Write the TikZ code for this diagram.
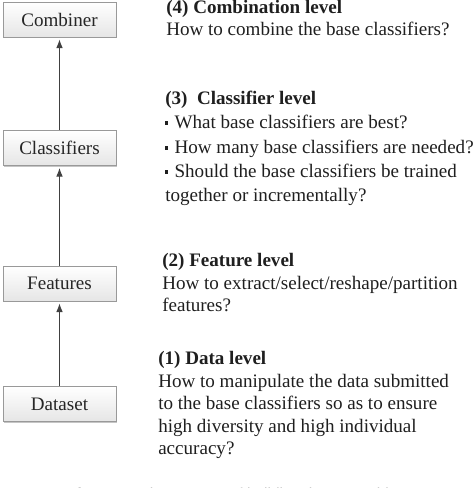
\documentclass[tikz,border=0pt]{standalone}
\usepackage{fontspec}
\setmainfont{Liberation Serif}
\setsansfont{Liberation Sans}
\usetikzlibrary{arrows.meta,shadows}

\tikzset{
  levelbox/.style={draw=black!40, line width=0.6pt, top color=white, bottom color=black!10,
    drop shadow={shadow xshift=0.9pt, shadow yshift=-0.9pt, fill=black!45, opacity=0.5},
    minimum width=84.75pt, minimum height=26.25pt, inner sep=0pt,
    font=\fontsize{14.3}{17}\selectfont, text=black!85},
  levelarrow/.style={-{Latex[length=6.5pt,width=5pt]}, draw=black!75, line width=0.75pt, shorten >=1.5pt},
  leveltext/.style={anchor=base west, inner sep=0pt, font=\fontsize{14.3}{17}\selectfont, text=black!88}
}
\newcommand{\sqbul}{\raisebox{0.5ex}{\rule{2.4pt}{2.4pt}}\hspace{4.6pt}}

\begin{document}
\begin{tikzpicture}[x=0.75pt,y=0.75pt,yscale=-1,xscale=1]
\useasboundingbox (0,0) rectangle (474,488); %set diagram to the size of the reference

%Shape: Rectangle [id:combiner]
\node (comb) [levelbox] at (59.5,19.5) {Combiner};
%Shape: Rectangle [id:classifiers]
\node (clf) [levelbox] at (59.5,148) {Classifiers};
%Shape: Rectangle [id:features]
\node (feat) [levelbox] at (59.5,283.5) {Features};
%Shape: Rectangle [id:dataset]
\node (data) [levelbox] at (59.5,404) {Dataset};

%Straight Lines
\draw [levelarrow] (clf.north) -- (comb.south);
\draw [levelarrow] (feat.north) -- (clf.south);
\draw [levelarrow] (data.north) -- (feat.south);

% Text Node
\node (comb1) [leveltext] at (166,14) {\textbf{(4) Combination level}};
% Text Node
\node (comb2) [leveltext] at (166,36) {How to combine the base classifiers?};

% Text Node
\node (clf1) [leveltext] at (165,105) {\textbf{(3)\ \ Classifier level}};
% Text Node
\node (clf2) [leveltext] at (165,129) {\sqbul What base classifiers are best?};
% Text Node
\node (clf3) [leveltext] at (165,154) {\sqbul How many base classifiers are needed?};
% Text Node
\node (clf4) [leveltext] at (165,178) {\sqbul Should the base classifiers be trained};
% Text Node
\node (clf5) [leveltext] at (165,201) {together or incrementally?};

% Text Node
\node (feat1) [leveltext] at (162,266) {\textbf{(2) Feature level}};
% Text Node
\node (feat2) [leveltext] at (162,289) {How to extract/select/reshape/partition};
% Text Node
\node (feat3) [leveltext] at (162,311) {features?};

% Text Node
\node (data1) [leveltext] at (158,364) {\textbf{(1) Data level}};
% Text Node
\node (data2) [leveltext] at (158,387) {How to manipulate the data submitted};
% Text Node
\node (data3) [leveltext] at (158,409) {to the base classifiers so as to ensure};
% Text Node
\node (data4) [leveltext] at (158,432) {high diversity and high individual};
% Text Node
\node (data5) [leveltext] at (158,454) {accuracy?};

% Text Node
\node (cap) [anchor=base west, inner sep=0pt, font=\sffamily\fontsize{11.6}{14}\selectfont, text=black!85] at (68,499) {\textbf{Figure 1.}\hspace{0.5em}The process of building the ensemble};

\end{tikzpicture}
\end{document}
